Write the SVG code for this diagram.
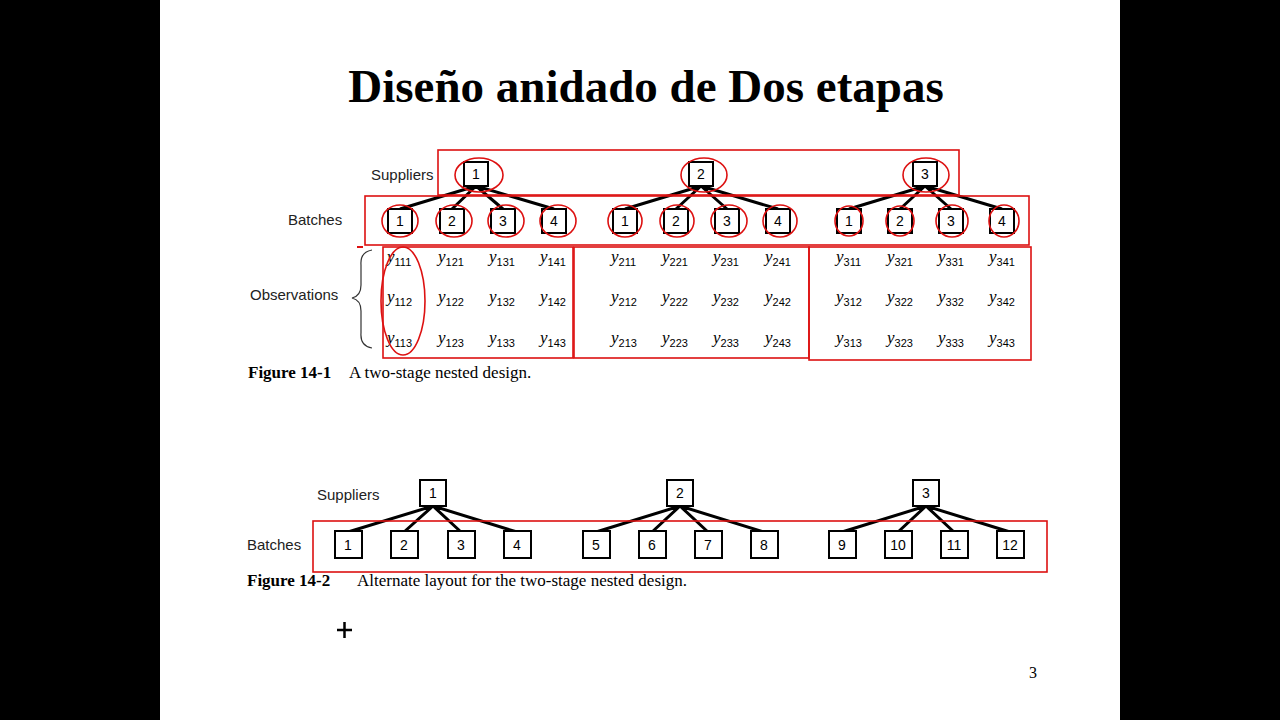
<svg xmlns="http://www.w3.org/2000/svg" width="1280" height="720" viewBox="0 0 1280 720">
<style>
.bx{fill:#fff;stroke:#000;stroke-width:2}
.n{font-family:"Liberation Sans",Arial,sans-serif;font-size:14px;text-anchor:middle}
.lb{font-family:"Liberation Sans",Arial,sans-serif;font-size:15px;fill:#222}
.ob{font-family:"Liberation Serif","Times New Roman",serif;font-style:italic;font-size:17px}
.ob tspan{font-family:"Liberation Sans",Arial,sans-serif;font-style:normal;font-size:11px}
.cap{font-family:"Liberation Serif","Times New Roman",serif;font-size:17px}
.rd{fill:none;stroke:#d11;stroke-width:1.6}
.ln{stroke:#000;stroke-width:3}
</style>
<rect width="1280" height="720" fill="#000"/>
<rect x="160" width="960" height="720" fill="#fff"/>
<text x="646" y="102" text-anchor="middle" font-family="Liberation Serif,serif" font-weight="bold" font-size="47">Diseño anidado de Dos etapas</text>
<g id="connectors">
<path class="ln" d="M476 186L400 209M476 186L452 209M476 186L503 209M476 186L554 209M701 186L625 209M701 186L676 209M701 186L727 209M701 186L778 209M925 186L849 209M925 186L900 209M925 186L951 209M925 186L1002 209"/>
<path class="ln" d="M433 506L348 532M433 506L404 532M433 506L461 532M433 506L517 532M680 506L596 532M680 506L652 532M680 506L708 532M680 506L764 532M926 506L842 532M926 506L898 532M926 506L954 532M926 506L1010 532"/>
</g>
<g id="fig1">
<text class="lb" x="371" y="180">Suppliers</text>
<text class="lb" x="288" y="225">Batches</text>
<text class="lb" x="250" y="300">Observations</text>
<path d="M372 250 Q360 252 361 265 L361 285 Q361 296 352 298 Q361 300 361 311 L361 333 Q360 346 372 348" fill="none" stroke="#333" stroke-width="1.2"/>
<g id="s1"><rect class="bx" x="464" y="162" width="24" height="24"/><text class="n" x="476" y="179">1</text></g>
<g id="s2"><rect class="bx" x="689" y="162" width="24" height="24"/><text class="n" x="701" y="179">2</text></g>
<g id="s3"><rect class="bx" x="913" y="162" width="24" height="24"/><text class="n" x="925" y="179">3</text></g>
<g id="batches1">
<rect class="bx" x="388" y="209" width="24" height="24"/><text class="n" x="400" y="226">1</text>
<rect class="bx" x="440" y="209" width="24" height="24"/><text class="n" x="452" y="226">2</text>
<rect class="bx" x="491" y="209" width="24" height="24"/><text class="n" x="503" y="226">3</text>
<rect class="bx" x="542" y="209" width="24" height="24"/><text class="n" x="554" y="226">4</text>
<rect class="bx" x="613" y="209" width="24" height="24"/><text class="n" x="625" y="226">1</text>
<rect class="bx" x="664" y="209" width="24" height="24"/><text class="n" x="676" y="226">2</text>
<rect class="bx" x="715" y="209" width="24" height="24"/><text class="n" x="727" y="226">3</text>
<rect class="bx" x="766" y="209" width="24" height="24"/><text class="n" x="778" y="226">4</text>
<rect class="bx" x="837" y="209" width="24" height="24"/><text class="n" x="849" y="226">1</text>
<rect class="bx" x="888" y="209" width="24" height="24"/><text class="n" x="900" y="226">2</text>
<rect class="bx" x="939" y="209" width="24" height="24"/><text class="n" x="951" y="226">3</text>
<rect class="bx" x="990" y="209" width="24" height="24"/><text class="n" x="1002" y="226">4</text>
</g>
<g id="obs">
<text class="ob" x="387" y="262">y<tspan dy="4">111</tspan></text><text class="ob" x="438" y="262">y<tspan dy="4">121</tspan></text><text class="ob" x="489" y="262">y<tspan dy="4">131</tspan></text><text class="ob" x="540" y="262">y<tspan dy="4">141</tspan></text>
<text class="ob" x="611" y="262">y<tspan dy="4">211</tspan></text><text class="ob" x="662" y="262">y<tspan dy="4">221</tspan></text><text class="ob" x="713" y="262">y<tspan dy="4">231</tspan></text><text class="ob" x="765" y="262">y<tspan dy="4">241</tspan></text>
<text class="ob" x="836" y="262">y<tspan dy="4">311</tspan></text><text class="ob" x="887" y="262">y<tspan dy="4">321</tspan></text><text class="ob" x="938" y="262">y<tspan dy="4">331</tspan></text><text class="ob" x="989" y="262">y<tspan dy="4">341</tspan></text>
<text class="ob" x="387" y="302">y<tspan dy="4">112</tspan></text><text class="ob" x="438" y="302">y<tspan dy="4">122</tspan></text><text class="ob" x="489" y="302">y<tspan dy="4">132</tspan></text><text class="ob" x="540" y="302">y<tspan dy="4">142</tspan></text>
<text class="ob" x="611" y="302">y<tspan dy="4">212</tspan></text><text class="ob" x="662" y="302">y<tspan dy="4">222</tspan></text><text class="ob" x="713" y="302">y<tspan dy="4">232</tspan></text><text class="ob" x="765" y="302">y<tspan dy="4">242</tspan></text>
<text class="ob" x="836" y="302">y<tspan dy="4">312</tspan></text><text class="ob" x="887" y="302">y<tspan dy="4">322</tspan></text><text class="ob" x="938" y="302">y<tspan dy="4">332</tspan></text><text class="ob" x="989" y="302">y<tspan dy="4">342</tspan></text>
<text class="ob" x="387" y="343">y<tspan dy="4">113</tspan></text><text class="ob" x="438" y="343">y<tspan dy="4">123</tspan></text><text class="ob" x="489" y="343">y<tspan dy="4">133</tspan></text><text class="ob" x="540" y="343">y<tspan dy="4">143</tspan></text>
<text class="ob" x="611" y="343">y<tspan dy="4">213</tspan></text><text class="ob" x="662" y="343">y<tspan dy="4">223</tspan></text><text class="ob" x="713" y="343">y<tspan dy="4">233</tspan></text><text class="ob" x="765" y="343">y<tspan dy="4">243</tspan></text>
<text class="ob" x="836" y="343">y<tspan dy="4">313</tspan></text><text class="ob" x="887" y="343">y<tspan dy="4">323</tspan></text><text class="ob" x="938" y="343">y<tspan dy="4">333</tspan></text><text class="ob" x="989" y="343">y<tspan dy="4">343</tspan></text>
</g>
<g id="red1">
<rect class="rd" x="438" y="150" width="521" height="45"/>
<rect class="rd" x="365" y="196" width="664" height="49"/>
<rect class="rd" x="383" y="247" width="190" height="111"/>
<rect class="rd" x="574" y="247" width="235" height="111" stroke-width="2.2"/>
<rect class="rd" x="809" y="247" width="222" height="113"/>
<line x1="357" y1="247" x2="363" y2="247" stroke="#d11" stroke-width="2"/>
<ellipse class="rd" cx="479" cy="175" rx="24" ry="17"/>
<ellipse class="rd" cx="704" cy="175" rx="23" ry="17"/>
<ellipse class="rd" cx="926" cy="175" rx="23" ry="17"/>
<ellipse class="rd" cx="400" cy="221" rx="18" ry="16"/><ellipse class="rd" cx="454" cy="221" rx="18" ry="16"/><ellipse class="rd" cx="506" cy="221" rx="18" ry="16"/><ellipse class="rd" cx="558" cy="221" rx="18" ry="16"/>
<ellipse class="rd" cx="625" cy="221" rx="17" ry="16"/><ellipse class="rd" cx="677" cy="221" rx="17" ry="16"/><ellipse class="rd" cx="729" cy="221" rx="18" ry="16"/><ellipse class="rd" cx="780" cy="221" rx="17" ry="16"/>
<ellipse class="rd" cx="849" cy="221" rx="14" ry="15"/><ellipse class="rd" cx="900" cy="221" rx="14" ry="15"/><ellipse class="rd" cx="952" cy="221" rx="16" ry="16"/><ellipse class="rd" cx="1004" cy="221" rx="15" ry="16"/>
<ellipse class="rd" cx="403" cy="301" rx="22" ry="54"/>
</g>
<text class="cap" x="248" y="378"><tspan font-weight="bold">Figure 14-1</tspan><tspan x="349">A two-stage nested design.</tspan></text>
</g>
<g id="fig2">
<text class="lb" x="317" y="500">Suppliers</text>
<text class="lb" x="247" y="550">Batches</text>
<g id="t1"><rect class="bx" x="420" y="480" width="26" height="26"/><text class="n" x="433" y="498">1</text></g>
<g id="t2"><rect class="bx" x="667" y="480" width="26" height="26"/><text class="n" x="680" y="498">2</text></g>
<g id="t3"><rect class="bx" x="913" y="480" width="26" height="26"/><text class="n" x="926" y="498">3</text></g>
<g id="batches2">
<rect class="bx" x="335" y="531" width="27" height="27"/><text class="n" x="348" y="550">1</text>
<rect class="bx" x="391" y="531" width="27" height="27"/><text class="n" x="404" y="550">2</text>
<rect class="bx" x="448" y="531" width="27" height="27"/><text class="n" x="461" y="550">3</text>
<rect class="bx" x="504" y="531" width="27" height="27"/><text class="n" x="517" y="550">4</text>
<rect class="bx" x="583" y="531" width="27" height="27"/><text class="n" x="596" y="550">5</text>
<rect class="bx" x="639" y="531" width="27" height="27"/><text class="n" x="652" y="550">6</text>
<rect class="bx" x="695" y="531" width="27" height="27"/><text class="n" x="708" y="550">7</text>
<rect class="bx" x="751" y="531" width="27" height="27"/><text class="n" x="764" y="550">8</text>
<rect class="bx" x="829" y="531" width="27" height="27"/><text class="n" x="842" y="550">9</text>
<rect class="bx" x="885" y="531" width="27" height="27"/><text class="n" x="898" y="550">10</text>
<rect class="bx" x="941" y="531" width="27" height="27"/><text class="n" x="954" y="550">11</text>
<rect class="bx" x="997" y="531" width="27" height="27"/><text class="n" x="1010" y="550">12</text>
</g>
<rect class="rd" x="313" y="521" width="734" height="51"/>
<text class="cap" x="247" y="586" font-size="18"><tspan font-weight="bold">Figure 14-2</tspan><tspan x="357">Alternate layout for the two-stage nested design.</tspan></text>
</g>
<path d="M337 630H352M344.5 622V638" stroke="#000" stroke-width="2.5"/>
<text x="1033" y="678" text-anchor="middle" font-family="Liberation Serif,serif" font-size="16">3</text>
</svg>
